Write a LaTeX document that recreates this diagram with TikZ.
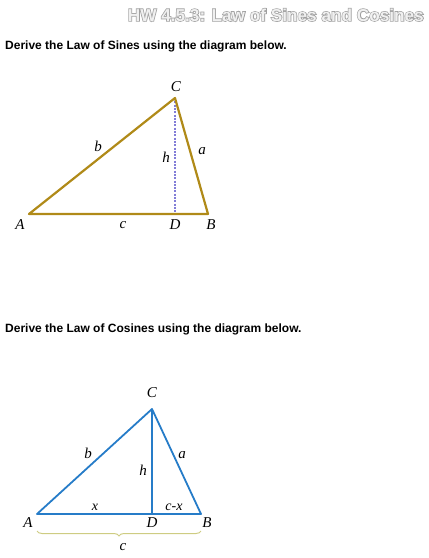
\documentclass[tikz,border=0pt]{standalone}
\usepackage{fontspec}
\setmainfont{Liberation Sans}
\newfontfamily\labelfont{Liberation Serif}
\usepackage{xcolor}
\usetikzlibrary{decorations.pathreplacing}
\definecolor{sinegold}{RGB}{176, 138, 24}
\definecolor{heightblue}{RGB}{130, 125, 215}
\definecolor{cosineblue}{RGB}{38, 124, 200}
\definecolor{bracegreen}{RGB}{206, 204, 130}
\newcommand{\strokedtext}[1]{\special{pdf:literal direct 1 Tr 1.4 w}#1\special{pdf:literal direct 0 Tr 0.4 w}}

\begin{document}
\begin{tikzpicture}[x=1pt, y=-1pt,
    titletext/.style={anchor=base east, inner sep=0pt, font=\bfseries\fontsize{17.2}{19}\selectfont},
    heading/.style={anchor=base west, inner sep=0pt, font=\bfseries\fontsize{12}{14}\selectfont},
    vlabel/.style={inner sep=0pt, font=\labelfont\itshape\fontsize{15}{17}\selectfont},
    slabel/.style={inner sep=0pt, font=\labelfont\itshape\fontsize{14}{16}\selectfont}]
    \useasboundingbox (0,0) rectangle (429,558);

    % Titel
    \node[titletext, text=gray!75] (titleline) at (424,21) {\strokedtext{HW 4.5.3: Law of Sines and Cosines}};
    \node[titletext, text=gray!12] (title) at (424,21) {HW 4.5.3: Law of Sines and Cosines};
    \node[heading] (sinetext) at (5,49) {Derive the Law of Sines using the diagram below.};
    \node[heading] (cosinetext) at (5,332) {Derive the Law of Cosines using the diagram below.};

    % Sinussatz
    \coordinate (A1) at (29,214);
    \coordinate (B1) at (208,214);
    \coordinate (C1) at (175,98);
    \coordinate (D1) at (175,214);
    \draw[heightblue, line width=1.1pt, dash pattern=on 2pt off 1.3pt] (C1) -- (D1);
    \draw[sinegold, line width=2.2pt, line join=round] (A1) -- (B1) -- (C1) -- cycle;
    \node[vlabel] (labC1) at (176,87) {C};
    \node[vlabel] (labb1) at (98,146) {b};
    \node[vlabel] (labh1) at (166,157) {h};
    \node[vlabel] (laba1) at (202,151) {a};
    \node[vlabel] (labA1) at (20,225) {A};
    \node[vlabel] (labc1) at (123,225) {c};
    \node[vlabel] (labD1) at (175,225) {D};
    \node[vlabel] (labB1) at (211,225) {B};

    % Kosinussatz
    \coordinate (A2) at (37,514);
    \coordinate (B2) at (201,514);
    \coordinate (C2) at (152,409);
    \coordinate (D2) at (152,514);
    \draw[cosineblue, line width=1.8pt] (C2) -- (D2);
    \draw[cosineblue, line width=1.8pt, line join=round] (A2) -- (B2) -- (C2) -- cycle;
    \draw[bracegreen, line width=1pt, decorate, decoration={brace, mirror, amplitude=5pt}] ([yshift=-17pt]A2) -- ([yshift=-17pt]B2);
    \node[vlabel] (labC2) at (152,393) {C};
    \node[vlabel] (labb2) at (88,453) {b};
    \node[vlabel] (labh2) at (143,470) {h};
    \node[vlabel] (laba2) at (182,455) {a};
    \node[slabel] (labx2) at (95,507) {x};
    \node[slabel] (labcx2) at (174,507) {c-x};
    \node[vlabel] (labA2) at (28,523) {A};
    \node[vlabel] (labD2) at (152,523) {D};
    \node[vlabel] (labB2) at (207,523) {B};
    \node[vlabel] (labc2) at (123,547) {c};
\end{tikzpicture}
\end{document}
